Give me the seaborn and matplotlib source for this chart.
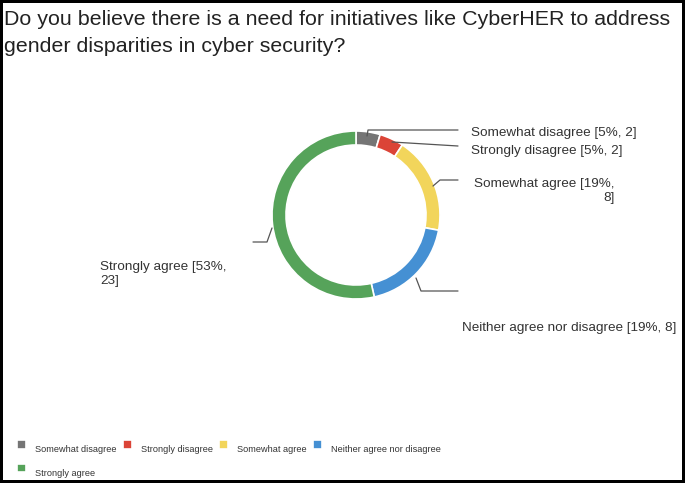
import matplotlib
matplotlib.use("Agg")
import matplotlib.pyplot as plt
from matplotlib.patches import Rectangle
from matplotlib.legend_handler import HandlerPatch
import seaborn as sns

sns.set_theme(style="white")
plt.rcParams['font.family'] = ['Liberation Sans', 'DejaVu Sans']

# data
categories = ['Somewhat disagree', 'Strongly disagree', 'Somewhat agree',
              'Neither agree nor disagree', 'Strongly agree']
counts = [2, 2, 8, 8, 23]
percents = [5, 5, 19, 19, 53]
colors = ['#757575', '#db4437', '#f2d55b', '#4590d3', '#56a35a']

title = ("Do you believe there is a need for initiatives like CyberHER to address\n"
         "gender disparities in cyber security?")

W, H = 685, 483
fig = plt.figure(figsize=(W / 100, H / 100), dpi=100,
                 linewidth=3, edgecolor='black')
ax = fig.add_axes([0, 0, 1, 1])

# donut, pixel coordinates (y down, so start at -90 to begin at the top)
cx, cy, r = 356, 215, 84
wedges, _ = ax.pie(counts, colors=colors, startangle=-90, counterclock=True,
                   center=(cx, cy), radius=r, frame=True,
                   wedgeprops=dict(width=14, edgecolor='white', linewidth=1.2))
ax.set_xlim(0, W)
ax.set_ylim(H, 0)
ax.set_aspect('equal')
ax.axis('off')

# leader lines + labels (layout only)
leaders = [
    [(367, 136), (368, 130), (458, 130)],
    [(392, 142), (458, 146)],
    [(433, 186), (440, 180), (458, 180)],
    [(416, 278), (421, 291), (458, 291)],
    [(272, 228), (267, 242), (253, 242)],
]
label_pos = [
    (471, 133, 'left', f'{categories[0]} [{percents[0]}%, {counts[0]}]'),
    (471, 151, 'left', f'{categories[1]} [{percents[1]}%, {counts[1]}]'),
    (615, 191, 'right', f'{categories[2]} [{percents[2]}%,\n{counts[2]}]'),
    (462, 328, 'left', f'{categories[3]} [{percents[3]}%, {counts[3]}]'),
    (100, 274, 'left', f'{categories[4]} [{percents[4]}%,\n{counts[4]}]'),
]
for pts, (x, y, ha, txt) in zip(leaders, label_pos):
    ax.plot([p[0] for p in pts], [p[1] for p in pts], color='#555555', lw=0.9)
    ax.text(x, y, txt, ha=ha, va='center', fontsize=9.7, color='#333333',
            linespacing=1.2, multialignment=ha)

fig.text(4 / W, 1 - 10 / H, title, ha='left', va='top', fontsize=15.4,
         color='#222222', linespacing=1.5)


# legend squares sit a little above their text in the reference
def raised_square(legend, orig_handle, xdescent, ydescent, width, height, fontsize):
    return Rectangle((-xdescent - 1.5, -ydescent + 3.0), 6.3, 6.3)


# legend fills row-wise in the reference: reorder for column-wise filling
order = [0, 4, 1, 2, 3]
leg = fig.legend([wedges[i] for i in order], [categories[i] for i in order],
                 loc='lower left', bbox_to_anchor=(11 / W, -3 / H), ncol=4,
                 frameon=False, fontsize=6.6, handlelength=0.95,
                 handleheight=0.95, handletextpad=0.8, columnspacing=0.9,
                 labelspacing=1.6, labelcolor='#333333',
                 handler_map={w: HandlerPatch(patch_func=raised_square) for w in wedges})

fig.savefig('out.png', dpi=100)
